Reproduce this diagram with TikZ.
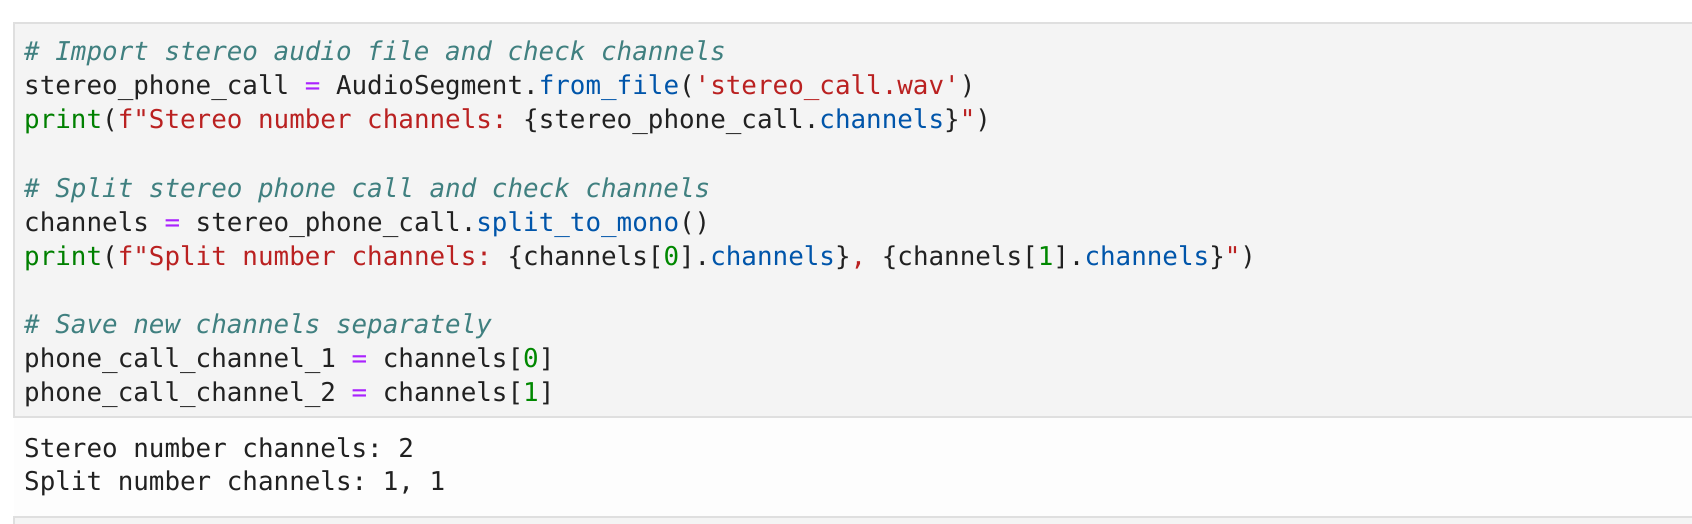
\documentclass[tikz,border=0pt]{standalone}
\usepackage{fontspec}
\setmonofont{DejaVu Sans Mono}
\definecolor{cellbg}{HTML}{F4F4F4}
\definecolor{outbg}{HTML}{FDFDFD}
\definecolor{cellrule}{HTML}{DFDFDF}
\definecolor{codeblack}{HTML}{212121}
\definecolor{commentcol}{HTML}{408080}
\definecolor{builtincol}{HTML}{008000}
\definecolor{stringcol}{HTML}{BA2121}
\definecolor{opcol}{HTML}{AA22FF}
\definecolor{propcol}{HTML}{0055AA}
\definecolor{numcol}{HTML}{008800}
\newcommand\cmt[1]{\textcolor{commentcol}{\itshape #1}}
\newcommand\bltn[1]{\textcolor{builtincol}{#1}}
\newcommand\strg[1]{\textcolor{stringcol}{#1}}
\newcommand\oper[1]{\textcolor{opcol}{#1}}
\newcommand\prop[1]{\textcolor{propcol}{#1}}
\newcommand\numb[1]{\textcolor{numcol}{#1}}
\newcommand\sqt{\char39}
\newcommand\dqt{\char34}
\begin{document}
\begin{tikzpicture}[x=1pt, y=-1pt,
    codeline/.style={anchor=base west, inner sep=0pt, text=codeblack,
        font=\ttfamily\fontsize{25.9}{34}\selectfont}]
\useasboundingbox (0,0) rectangle (1692,524);

% cell
\draw[cellrule, line width=1.5pt, fill=cellbg] (14,23) rectangle (1710,417);
\fill[outbg] (14,418) rectangle (1710,516);
\draw[cellrule, line width=1.5pt, fill=cellbg] (14,517) rectangle (1710,540);

% code
\node[codeline] (l1) at (24,61) {\cmt{\# Import stereo audio file and check channels}};
\node[codeline] (l2) at (24,95) {stereo\_phone\_call \oper{=} AudioSegment.\prop{from\_file}(\strg{\sqt stereo\_call.wav\sqt})};
\node[codeline] (l3) at (24,129) {\bltn{print}(\strg{f\dqt Stereo number channels: }\{stereo\_phone\_call.\prop{channels}\}\strg{\dqt})};

\node[codeline] (l5) at (24,197) {\cmt{\# Split stereo phone call and check channels}};
\node[codeline] (l6) at (24,231) {channels \oper{=} stereo\_phone\_call.\prop{split\_to\_mono}()};
\node[codeline] (l7) at (24,265) {\bltn{print}(\strg{f\dqt Split number channels: }\{channels[\numb{0}].\prop{channels}\}\strg{, }\{channels[\numb{1}].\prop{channels}\}\strg{\dqt})};

\node[codeline] (l9) at (24,333) {\cmt{\# Save new channels separately}};
\node[codeline] (l10) at (24,367) {phone\_call\_channel\_1 \oper{=} channels[\numb{0}]};
\node[codeline] (l11) at (24,401) {phone\_call\_channel\_2 \oper{=} channels[\numb{1}]};

% output
\node[codeline] (o1) at (24,457) {Stereo number channels: 2};
\node[codeline] (o2) at (24,490) {Split number channels: 1, 1};
\end{tikzpicture}
\end{document}
